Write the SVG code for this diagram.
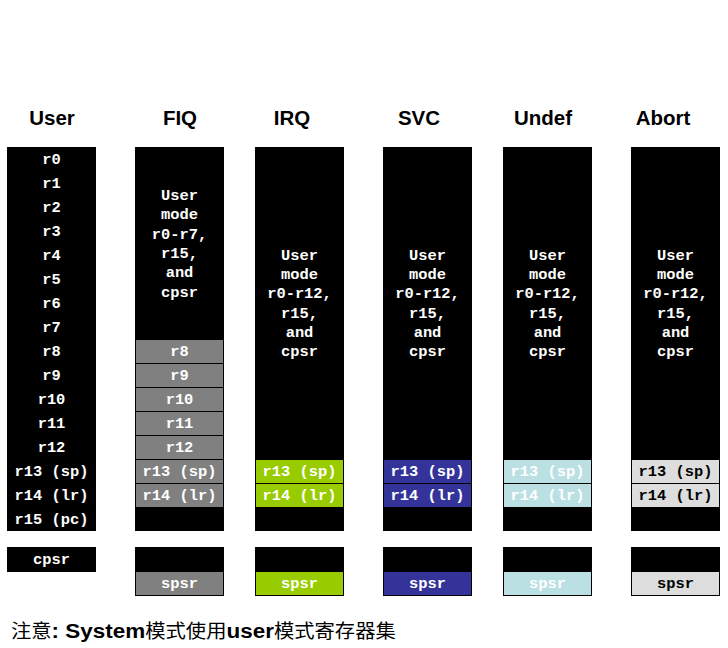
<svg xmlns="http://www.w3.org/2000/svg" width="728" height="648" viewBox="0 0 728 648">
<style>
.h{font-family:"Liberation Sans",Arial,sans-serif;font-weight:bold;font-size:20.5px;fill:#000;text-anchor:middle}
.t{font-family:"Liberation Mono","Courier New",monospace;font-weight:bold;font-size:15.4px;fill:#fff;text-anchor:middle}
.k{fill:#000}
.c{stroke:#000;stroke-width:1}
.cj{font-family:"Noto Sans CJK SC",sans-serif;font-size:19px}
.lt{font-family:"Liberation Sans",Arial,sans-serif;font-weight:bold;font-size:21px}
</style>
<rect width="728" height="648" fill="#fff"/>
<g id="user">
<text class="h" x="52" y="125">User</text>
<rect class="k" x="7" y="147" width="89" height="384"/>
<g class="t">
<text x="51.5" y="164">r0</text><text x="51.5" y="188">r1</text><text x="51.5" y="212">r2</text><text x="51.5" y="236">r3</text>
<text x="51.5" y="260">r4</text><text x="51.5" y="284">r5</text><text x="51.5" y="308">r6</text><text x="51.5" y="332">r7</text>
<text x="51.5" y="356">r8</text><text x="51.5" y="380">r9</text><text x="51.5" y="404">r10</text><text x="51.5" y="428">r11</text>
<text x="51.5" y="452">r12</text><text x="51.5" y="476">r13 (sp)</text><text x="51.5" y="500">r14 (lr)</text><text x="51.5" y="524">r15 (pc)</text>
</g>
<rect class="k" x="7" y="547" width="89" height="25"/>
<text class="t" x="51.5" y="564">cpsr</text>
</g>
<g id="fiq">
<text class="h" x="180" y="125">FIQ</text>
<rect class="k" x="135" y="147" width="89" height="384"/>
<g class="t">
<text x="179.5" y="200">User</text><text x="179.5" y="219">mode</text><text x="179.5" y="239">r0-r7,</text>
<text x="179.5" y="258">r15,</text><text x="179.5" y="277">and</text><text x="179.5" y="297">cpsr</text>
</g>
<g fill="#808080" class="c">
<rect x="135.5" y="339.5" width="88" height="24"/><rect x="135.5" y="363.5" width="88" height="24"/>
<rect x="135.5" y="387.5" width="88" height="24"/><rect x="135.5" y="411.5" width="88" height="24"/>
<rect x="135.5" y="435.5" width="88" height="24"/><rect x="135.5" y="459.5" width="88" height="24"/>
<rect x="135.5" y="483.5" width="88" height="24"/>
</g>
<g class="t">
<text x="179.5" y="356">r8</text><text x="179.5" y="380">r9</text><text x="179.5" y="404">r10</text><text x="179.5" y="428">r11</text>
<text x="179.5" y="452">r12</text><text x="179.5" y="476">r13 (sp)</text><text x="179.5" y="500">r14 (lr)</text>
</g>
<rect class="k" x="135" y="547" width="89" height="49"/>
<rect x="135.5" y="571.5" width="88" height="24" fill="#808080" class="c"/>
<text class="t" x="179.5" y="588">spsr</text>
</g>
<g id="irq">
<text class="h" x="292" y="125">IRQ</text>
<rect class="k" x="255" y="147" width="89" height="384"/>
<g class="t">
<text x="299.5" y="260">User</text><text x="299.5" y="279">mode</text><text x="299.5" y="298">r0-r12,</text>
<text x="299.5" y="318">r15,</text><text x="299.5" y="337">and</text><text x="299.5" y="356">cpsr</text>
</g>
<g fill="#99CC00" class="c"><rect x="255.5" y="459.5" width="88" height="24"/><rect x="255.5" y="483.5" width="88" height="24"/></g>
<g class="t"><text x="299.5" y="476">r13 (sp)</text><text x="299.5" y="500">r14 (lr)</text></g>
<rect class="k" x="255" y="547" width="89" height="49"/>
<rect x="255.5" y="571.5" width="88" height="24" fill="#99CC00" class="c"/>
<text class="t" x="299.5" y="588">spsr</text>
</g>
<g id="svc">
<text class="h" x="419" y="125">SVC</text>
<rect class="k" x="383" y="147" width="89" height="384"/>
<g class="t">
<text x="427.5" y="260">User</text><text x="427.5" y="279">mode</text><text x="427.5" y="298">r0-r12,</text>
<text x="427.5" y="318">r15,</text><text x="427.5" y="337">and</text><text x="427.5" y="356">cpsr</text>
</g>
<g fill="#333399" class="c"><rect x="383.5" y="459.5" width="88" height="24"/><rect x="383.5" y="483.5" width="88" height="24"/></g>
<g class="t"><text x="427.5" y="476">r13 (sp)</text><text x="427.5" y="500">r14 (lr)</text></g>
<rect class="k" x="383" y="547" width="89" height="49"/>
<rect x="383.5" y="571.5" width="88" height="24" fill="#333399" class="c"/>
<text class="t" x="427.5" y="588">spsr</text>
</g>
<g id="undef">
<text class="h" x="543" y="125">Undef</text>
<rect class="k" x="503" y="147" width="89" height="384"/>
<g class="t">
<text x="547.5" y="260">User</text><text x="547.5" y="279">mode</text><text x="547.5" y="298">r0-r12,</text>
<text x="547.5" y="318">r15,</text><text x="547.5" y="337">and</text><text x="547.5" y="356">cpsr</text>
</g>
<g fill="#BBE0E3" class="c"><rect x="503.5" y="459.5" width="88" height="24"/><rect x="503.5" y="483.5" width="88" height="24"/></g>
<g class="t"><text x="547.5" y="476">r13 (sp)</text><text x="547.5" y="500">r14 (lr)</text></g>
<rect class="k" x="503" y="547" width="89" height="49"/>
<rect x="503.5" y="571.5" width="88" height="24" fill="#BBE0E3" class="c"/>
<text class="t" x="547.5" y="588">spsr</text>
</g>
<g id="abort">
<text class="h" x="663" y="125">Abort</text>
<rect class="k" x="631" y="147" width="89" height="384"/>
<g class="t">
<text x="675.5" y="260">User</text><text x="675.5" y="279">mode</text><text x="675.5" y="298">r0-r12,</text>
<text x="675.5" y="318">r15,</text><text x="675.5" y="337">and</text><text x="675.5" y="356">cpsr</text>
</g>
<g fill="#DDDDDD" class="c"><rect x="631.5" y="459.5" width="88" height="24"/><rect x="631.5" y="483.5" width="88" height="24"/></g>
<g class="t" style="fill:#000"><text x="675.5" y="476">r13 (sp)</text><text x="675.5" y="500">r14 (lr)</text></g>
<rect class="k" x="631" y="547" width="89" height="49"/>
<rect x="631.5" y="571.5" width="88" height="24" fill="#DDDDDD" class="c"/>
<text class="t" x="675.5" y="588" style="fill:#000">spsr</text>
</g>
<g id="connectors"></g>
<g id="note">
<text transform="translate(11,638) scale(1.07,1)" x="0" y="0" fill="#000"><tspan class="cj">注意</tspan><tspan class="lt">: System</tspan><tspan class="cj">模式使用</tspan><tspan class="lt">user</tspan><tspan class="cj">模式寄存器集</tspan></text>
</g>
</svg>
